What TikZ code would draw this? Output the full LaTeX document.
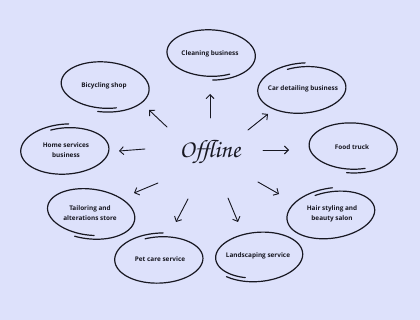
\documentclass[tikz,border=0pt]{standalone}
\usepackage{fontspec}
\setsansfont{Open Sans}
\usetikzlibrary{arrows.meta,shapes.geometric}
\definecolor{bg}{RGB}{221,225,251}
\definecolor{ink}{RGB}{24,24,34}
\newcommand\sketchring[5]{% name, rx, ry, rotation, start angle
  \draw[ink, line width=1.2pt, line cap=round, shift={(#1.center)}, rotate=#4]
    plot[domain=#5:#5+385, samples=100, smooth]
    ({(#2-2.5+5*(\x-#5)/385)*cos(\x)}, {(#3-2+4*(\x-#5)/385)*sin(\x)});}
\tikzset{
  bub/.style={ellipse, minimum width=88pt, minimum height=47pt, inner sep=0pt,
    align=center, text=ink, font=\fontsize{6.4}{9.5}\selectfont\sffamily\bfseries},
  arr/.style={ink, line width=0.9pt, line cap=round,
    -{Straight Barb[length=4pt,width=8pt]}}
}
\begin{document}
\begin{tikzpicture}[x=1pt,y=-1pt]
\useasboundingbox (0,0) rectangle (420,320);
\fill[bg] (0,0) rectangle (420,320);
\node[text=ink, font=\fontsize{25}{25}\usefont{OT1}{pzc}{mb}{it}] (off) at (210,153) {Offline};
\node[bub] (clean) at (210,54) {Cleaning business};
\node[bub] (bike) at (104,86) {Bicycling shop};
\node[bub] (car) at (303,89) {Car detailing business};
\node[bub] (food) at (352,147) {Food truck};
\node[bub] (home) at (66,150) {Home services\\business};
\node[bub] (tail) at (90,213) {Tailoring and\\alterations store};
\node[bub] (pet) at (160,259) {Pet care service};
\node[bub] (land) at (258,256) {Landscaping service};
\node[bub] (hair) at (332,214) {Hair styling and\\beauty salon};
\sketchring{clean}{44}{24}{-3}{60}
\sketchring{bike}{44}{24}{-5}{70}
\sketchring{car}{44}{24}{4}{250}
\sketchring{food}{44}{24}{-3}{70}
\sketchring{home}{44}{24}{3}{250}
\sketchring{tail}{44}{24}{-8}{80}
\sketchring{pet}{44}{24}{2}{250}
\sketchring{land}{44}{24}{4}{110}
\sketchring{hair}{44}{24}{8}{250}
\draw[arr] ([shift={(0,-35)}]off.center) -- ([shift={(0,40)}]clean.center);
\draw[arr] ([shift={(-43,-26)}]off.center) -- ([shift={(45,24)}]bike.center);
\draw[arr] ([shift={(38,-23)}]off.center) -- ([shift={(-35,25)}]car.center);
\draw[arr] ([shift={(53,-3)}]off.center) -- ([shift={(-63,3)}]food.center);
\draw[arr] ([shift={(-65,-4)}]off.center) -- ([shift={(53,1)}]home.center);
\draw[arr] ([shift={(-52,30)}]off.center) -- ([shift={(44,-20)}]tail.center);
\draw[arr] ([shift={(-22,46)}]off.center) -- ([shift={(16,-37)}]pet.center);
\draw[arr] ([shift={(18,45)}]off.center) -- ([shift={(-20,-34)}]land.center);
\draw[arr] ([shift={(48,29)}]off.center) -- ([shift={(-53,-20)}]hair.center);
\end{tikzpicture}
\end{document}
